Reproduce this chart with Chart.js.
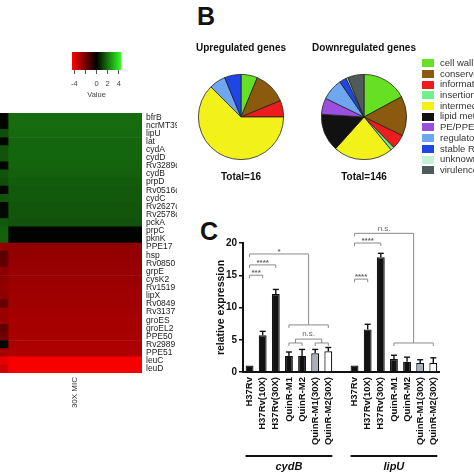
<!DOCTYPE html>
<html>
<head>
<meta charset="utf-8">
<script src="https://cdn.jsdelivr.net/npm/chart.js@4.4.1/dist/chart.umd.min.js"></script>
<style>
  html, body { margin: 0; padding: 0; background: #fff; width: 474px; height: 474px; overflow: hidden; position: relative; font-family: 'Liberation Sans', Arial, sans-serif; }
  .abs { position: absolute; }
  .panel { position: absolute; font-weight: bold; font-size: 25px; color: #111; line-height: 1; }
  #legend { position: absolute; left: 422px; top: 58px; font-size: 9.5px; color: #333; white-space: nowrap; }
  #legend div { height: 10.7px; line-height: 10.7px; display: flex; align-items: center; }
  #legend .box { display: inline-block; width: 12px; height: 8px; margin-right: 6px; }
</style>
</head>
<body>
<div class="panel" style="left:197px;top:4px">B</div>
<div class="panel" style="left:200px;top:219px">C</div>

<div class="abs" style="left:60px;top:45px;width:80px;height:54px"><canvas id="keyChart"></canvas></div>

<div class="abs" style="left:0;top:104px;width:177px;height:309px;overflow:hidden">
  <div class="abs" style="left:-126px;top:0;width:310px;height:309px"><canvas id="heatChart"></canvas></div>
</div>

<div class="abs" style="left:176px;top:42px;width:130px;height:141px"><canvas id="upPie"></canvas></div>
<div class="abs" style="left:299px;top:42px;width:130px;height:141px"><canvas id="downPie"></canvas></div>
<div id="legend"></div>

<div class="abs" style="left:205px;top:225px;width:245px;height:249px"><canvas id="barChart"></canvas></div>

<script>
Chart.defaults.font.family = "'Liberation Sans', Arial, sans-serif";
Chart.defaults.animation = false;

// heatmap (A)
const genes = ['bfrB', 'ncrMT3949', 'lipU', 'lat', 'cydA', 'cydD', 'Rv3289c', 'cydB', 'prpD', 'Rv0516c',
  'cydC', 'Rv2627c', 'Rv2578c', 'pckA', 'prpC', 'pknK', 'PPE17', 'hsp', 'Rv0850', 'grpE',
  'cysK2', 'Rv1519', 'lipX', 'Rv0849', 'Rv3137', 'groES', 'groEL2', 'PPE50', 'Rv2989', 'PPE51',
  'leuC', 'leuD'];
const colNames = ['10X MIC', '30X MIC'];
const mic10 = [0.1, 0.1, 1.2, 0.1, 1.3, 1.3, 0.1, 1.3, 1.2, 0.1,
  1.3, 0.15, 0.15, 1.4, 1.5, 1.5, -2.3, -1.4, -1.5, -2.2,
  -2.2, -2.3, -2.2, -1.6, -2.4, -2.4, -1.5, -1.8, 0.1, -2.6,
  -3.6, -3.2];
const mic30 = [1.7, 1.7, 1.65, 1.6, 1.6, 1.6, 1.55, 1.5, 1.45, 1.4,
  1.4, 1.35, 1.35, 1.3, 0.05, 0.05, -2.3, -2.3, -2.35, -2.4,
  -2.4, -2.45, -2.5, -2.5, -2.55, -2.6, -2.6, -2.65, -2.7, -2.75,
  -3.9, -3.9];
const keyMin = -4.4, keyMax = 4.4;
const keyTicks = [-4, -2, 0, 2, 4];

// pies (B)
const categories = ['cell wall and cell processes', 'conserved hypotheticals', 'information pathways',
  'insertion seqs and phages', 'intermediary metabolism and respiration', 'lipid metabolism',
  'PE/PPE', 'regulatory proteins', 'stable RNAs', 'unknown', 'virulence, detoxification, adaptation'];
const catColors = ['#66e022', '#8b5a0e', '#ee1c1c', '#6ef08a', '#f2f21a', '#111111',
  '#9b4ee0', '#6ea6f0', '#1f45e6', '#c4f2d4', '#505a5a'];
const upCounts = [1, 2, 1, 0, 10, 0, 0, 1, 1, 0, 0];
const downCounts = [25, 22, 8, 2, 33, 21, 9, 12, 4, 1, 9];

// qPCR bars (C)
const barLabels = ['H37Rv', 'H37Rv(10X)', 'H37Rv(30X)', 'QuinR-M1', 'QuinR-M2', 'QuinR-M1(30X)', 'QuinR-M2(30X)', '',
  'H37Rv', 'H37Rv(10X)', 'H37Rv(30X)', 'QuinR-M1', 'QuinR-M2', 'QuinR-M1(30X)', 'QuinR-M2(30X)'];
const expValues = [1.0, 5.7, 12.1, 2.5, 2.5, 2.9, 3.2, null, 1.0, 6.6, 17.8, 2.0, 1.6, 1.4, 1.4];
const expErrors = [0, 0.6, 0.7, 0.6, 1.0, 0.6, 0.6, null, 0, 0.8, 0.6, 0.6, 0.7, 0.5, 0.8];
const barFills = ['#111', '#111', '#111', '#111', '#111', '#a9b0b8', '#fff', '#fff',
  '#111', '#111', '#111', '#111', '#111', '#a9b0b8', '#fff'];
const groupNames = ['cydB', 'lipU'];
const groupFrom = [0, 8];
const groupTo = [6, 14];
// significance brackets: an arm is a bar index or a [first,last] group
const sigLeft = [0, 0, 0, [3, 4], 8, 8, 8];
const sigRight = [1, 2, [3, 6], [5, 6], 9, 10, [11, 14]];
const sigY = [15.0, 16.6, 18.3, 5.1, 14.4, 20.0, 21.5];
const sigLow = [null, null, 7.3, 4.5, null, null, 4.5];
const sigText = ['***', '****', '*', 'n.s.', '****', '****', 'n.s.'];

function heatColor(v) {
  const t = Math.min(Math.abs(v) / 4, 1);
  if (v < 0) return `rgb(${Math.round(255 * t)},0,0)`;
  return `rgb(${Math.round(51 * t)},${Math.round(255 * t)},${Math.round(34 * t)})`;
}

// COLOR KEY
new Chart(document.getElementById('keyChart'), {
  type: 'bar',
  data: {
    labels: [''],
    datasets: [{
      data: [[keyMin, keyMax]],
      barPercentage: 1, categoryPercentage: 1, borderWidth: 0,
      backgroundColor: ctx => {
        const a = ctx.chart.chartArea;
        if (!a) return '#000';
        const g = ctx.chart.ctx.createLinearGradient(a.left, 0, a.right, 0);
        g.addColorStop(0, heatColor(keyMin));
        g.addColorStop(0.5, heatColor(0));
        g.addColorStop(1, heatColor(keyMax));
        return g;
      }
    }]
  },
  options: {
    indexAxis: 'y', responsive: true, maintainAspectRatio: false,
    layout: { padding: { left: 12, right: 19, top: 7, bottom: 0 } },
    plugins: { legend: { display: false }, tooltip: { enabled: false } },
    scales: {
      x: {
        min: keyMin, max: keyMax,
        afterBuildTicks: s => { s.ticks = keyTicks.map(v => ({ value: v })); },
        afterFit: s => { s.height = 29; },
        ticks: { callback: v => (v === -2 ? '' : v), font: { size: 7.5 }, color: '#444', padding: 5, maxRotation: 0 },
        grid: { drawOnChartArea: false, tickLength: 4, color: '#555' },
        border: { display: false },
        title: { display: true, text: 'Value', font: { size: 7.5 }, color: '#444', padding: { top: 2, bottom: 0 } }
      },
      y: { display: false }
    }
  }
});

// HEATMAP
new Chart(document.getElementById('heatChart'), {
  type: 'bar',
  data: {
    labels: genes,
    datasets: [mic10, mic30].map((col, i) => ({
      label: colNames[i],
      data: genes.map(() => 1),
      backgroundColor: col.map(heatColor),
      borderWidth: 0, barPercentage: 1, categoryPercentage: 1
    }))
  },
  options: {
    indexAxis: 'y', responsive: true, maintainAspectRatio: false,
    layout: { padding: { top: 8, left: 0, right: 0, bottom: 0 } },
    plugins: { legend: { display: false }, tooltip: { enabled: false } },
    scales: {
      x: {
        type: 'linear', stacked: true, min: 0, max: 2,
        grid: { display: false, drawTicks: false }, border: { display: false },
        afterBuildTicks: s => { s.ticks = [{ value: 0.5 }, { value: 1.5 }]; },
        afterFit: s => { s.height = 40; },
        ticks: { callback: v => colNames[Math.floor(v)], minRotation: 90, maxRotation: 90, font: { size: 8 }, color: '#333', padding: 4 }
      },
      y: {
        position: 'right', stacked: true,
        grid: { display: false, drawTicks: false }, border: { display: false },
        afterFit: s => { s.width = 42; },
        ticks: { autoSkip: false, font: { size: 8.5 }, color: '#222', padding: 4 }
      }
    }
  }
});

// PIES
function pieChart(id, counts, title) {
  const total = counts.reduce((a, b) => a + b, 0);
  new Chart(document.getElementById(id), {
    type: 'pie',
    data: {
      labels: categories,
      datasets: [{ data: counts, backgroundColor: catColors, borderColor: '#222', borderWidth: 0.8 }]
    },
    options: {
      responsive: true, maintainAspectRatio: false,
      layout: { padding: 0 },
      plugins: {
        legend: { display: false }, tooltip: { enabled: false },
        title: { display: true, text: title, font: { size: 10, weight: 'bold' }, color: '#111', padding: { top: 0, bottom: 20 } },
        subtitle: { display: true, position: 'bottom', text: 'Total=' + total, font: { size: 10, weight: 'bold' }, color: '#111', padding: { top: 11, bottom: 0 } }
      }
    }
  });
}
pieChart('upPie', upCounts, 'Upregulated genes');
pieChart('downPie', downCounts, 'Downregulated genes');

const legendBox = document.getElementById('legend');
categories.forEach((c, i) => {
  legendBox.innerHTML += `<div><span class="box" style="background:${catColors[i]}"></span>${c}</div>`;
});

// BAR EXTRAS: error bars, brackets, group lines
const barExtras = {
  id: 'barExtras',
  afterDatasetsDraw(chart) {
    const { ctx, scales: { x, y } } = chart;
    const line = (x0, y0, x1, y1) => { ctx.beginPath(); ctx.moveTo(x0, y0); ctx.lineTo(x1, y1); ctx.stroke(); };
    ctx.save();

    ctx.strokeStyle = '#111';
    ctx.lineWidth = 1.4;
    expValues.forEach((v, i) => {
      if (v == null || !expErrors[i]) return;
      const px = x.getPixelForValue(i);
      const top = y.getPixelForValue(v + expErrors[i]);
      line(px, y.getPixelForValue(v), px, top);
      line(px - 3, top, px + 3, top);
    });

    const armX = a => Array.isArray(a)
      ? (x.getPixelForValue(a[0]) + x.getPixelForValue(a[1])) / 2
      : x.getPixelForValue(a);
    const drawArm = (a, yTop, yLow) => {
      const ax = armX(a), py = y.getPixelForValue(yTop);
      if (Array.isArray(a)) {
        const pl = y.getPixelForValue(yLow);
        const x0 = x.getPixelForValue(a[0]), x1 = x.getPixelForValue(a[1]);
        line(ax, py, ax, pl);
        line(x0, pl, x1, pl);
        line(x0, pl, x0, pl + 3);
        line(x1, pl, x1, pl + 3);
      } else {
        line(ax, py, ax, py + 3);
      }
    };
    ctx.strokeStyle = '#8a8a8a';
    ctx.fillStyle = '#666';
    ctx.lineWidth = 1;
    ctx.textAlign = 'center';
    sigText.forEach((t, i) => {
      const xl = armX(sigLeft[i]), xr = armX(sigRight[i]);
      const py = y.getPixelForValue(sigY[i]);
      line(xl, py, xr, py);
      drawArm(sigLeft[i], sigY[i], sigLow[i]);
      drawArm(sigRight[i], sigY[i], sigLow[i]);
      if (t.startsWith('*')) {
        ctx.font = "bold 8px 'Liberation Sans', Arial";
        ctx.textBaseline = 'top';
        ctx.fillText(t, (xl + xr) / 2, py - 6);
      } else {
        ctx.font = "8px 'Liberation Sans', Arial";
        ctx.textBaseline = 'bottom';
        ctx.fillText(t, (xl + xr) / 2, py - 1);
      }
    });

    ctx.strokeStyle = '#111';
    ctx.fillStyle = '#111';
    ctx.lineWidth = 2;
    ctx.textBaseline = 'middle';
    ctx.font = "italic bold 11px 'Liberation Sans', Arial";
    const lineY = chart.height - 18, nameY = chart.height - 7;
    groupNames.forEach((g, i) => {
      const x0 = x.getPixelForValue(groupFrom[i]) - 4, x1 = x.getPixelForValue(groupTo[i]) + 4;
      line(x0, lineY, x1, lineY);
      ctx.fillText(g, (x0 + x1) / 2, nameY);
    });
    ctx.restore();
  }
};

new Chart(document.getElementById('barChart'), {
  type: 'bar',
  data: {
    labels: barLabels,
    datasets: [{
      data: expValues,
      backgroundColor: barFills,
      borderColor: '#111', borderWidth: 1.2,
      barPercentage: 0.6, categoryPercentage: 1
    }]
  },
  options: {
    responsive: true, maintainAspectRatio: false,
    layout: { padding: { top: 18, right: 9, left: 0, bottom: 0 } },
    plugins: { legend: { display: false }, tooltip: { enabled: false } },
    scales: {
      x: {
        grid: { display: false, drawTicks: false },
        border: { display: true, width: 2, color: '#111' },
        afterFit: s => { s.height = 102; },
        ticks: { autoSkip: false, minRotation: 90, maxRotation: 90, font: { size: 9.5, weight: 'bold' }, color: '#111', padding: 5 }
      },
      y: {
        min: 0, max: 20,
        afterFit: s => { s.width = 38; },
        ticks: { stepSize: 5, font: { size: 10, weight: 'bold' }, color: '#111', padding: 2 },
        grid: { display: true, drawOnChartArea: false, drawTicks: true, tickLength: 4, color: '#111', lineWidth: 1.5 },
        border: { display: true, width: 2, color: '#111' },
        title: { display: true, text: 'relative expression', font: { size: 10.5, weight: 'bold' }, color: '#111', padding: { top: 10, bottom: 0 } }
      }
    }
  },
  plugins: [barExtras]
});
</script>
</body>
</html>
